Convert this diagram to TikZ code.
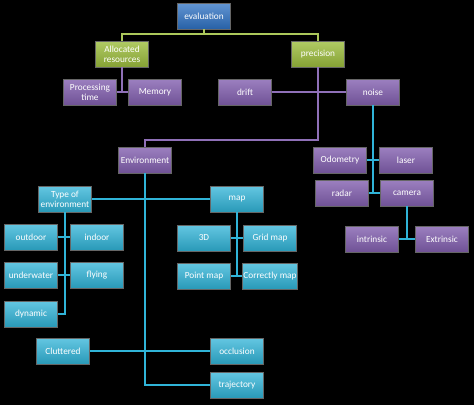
\documentclass[tikz,border=0pt]{standalone}
\usepackage{fontspec}
\setmainfont{Carlito}
\usepackage{tikz}
\usetikzlibrary{arrows}

\definecolor{evalblue}{HTML}{2E72C4}
\definecolor{critgreen}{HTML}{9DBE3E}
\definecolor{subpurple}{HTML}{8360B0}
\definecolor{envcyan}{HTML}{30B4D8}

\begin{document}
\begin{tikzpicture}[x=1pt,y=-1pt]
	\tikzstyle{Box} = [minimum width=53pt, minimum height=26pt, inner sep=1pt,
		align=center, text=white, font=\fontsize{9.3}{9.8}\selectfont, draw=black!60, line width=0.4pt]
	\tikzstyle{BlueBox} = [Box, top color=evalblue!75!white, bottom color=evalblue!85!black]
	\tikzstyle{GreenBox} = [Box, top color=critgreen!80!white, bottom color=critgreen!85!black]
	\tikzstyle{PurpleBox} = [Box, top color=subpurple!80!white, bottom color=subpurple!85!black]
	\tikzstyle{CyanBox} = [Box, top color=envcyan!75!white, bottom color=envcyan!85!black]
	\tikzstyle{GreenEdge} = [draw=critgreen!85!white, line width=1.6pt]
	\tikzstyle{PurpleEdge} = [draw=subpurple!90!white, line width=1.6pt]
	\tikzstyle{CyanEdge} = [draw=envcyan, line width=1.6pt]

	\fill[black] (0,0) rectangle (474,405);
	\useasboundingbox (0,0) rectangle (474,405);

	\node[BlueBox] (eval) at (204,16) {evaluation};
	\node[GreenBox] (alloc) at (122,54) {Allocated\\resources};
	\node[GreenBox] (prec) at (318,54) {precision};
	\node[PurpleBox] (proc) at (90,92) {Processing\\time};
	\node[PurpleBox] (mem) at (155,92) {Memory};
	\node[PurpleBox] (drift) at (245,92) {drift};
	\node[PurpleBox] (noise) at (373,92) {noise};
	\node[PurpleBox] (env) at (145,160) {Environment};
	\node[PurpleBox] (odo) at (340,160) {Odometry};
	\node[PurpleBox] (laser) at (406,160) {laser};
	\node[PurpleBox] (radar) at (342,193) {radar};
	\node[PurpleBox] (camera) at (407,193) {camera};
	\node[PurpleBox] (intr) at (372,239) {intrinsic};
	\node[PurpleBox] (extr) at (442,239) {Extrinsic};

	\node[CyanBox] (type) at (65,199) {Type of\\environment};
	\node[CyanBox] (map) at (237,199) {map};
	\node[CyanBox] (outdoor) at (31,237) {outdoor};
	\node[CyanBox] (indoor) at (97,237) {indoor};
	\node[CyanBox] (threed) at (204,238) {3D};
	\node[CyanBox] (grid) at (270,238) {Grid map};
	\node[CyanBox] (under) at (31,275) {underwater};
	\node[CyanBox] (flying) at (97,275) {flying};
	\node[CyanBox] (point) at (204,276) {Point map};
	\node[CyanBox] (correct) at (270,276) {Correctly map};
	\node[CyanBox] (dyn) at (31,314) {dynamic};
	\node[CyanBox] (clut) at (63,351) {Cluttered};
	\node[CyanBox] (occl) at (237,351) {occlusion};
	\node[CyanBox] (traj) at (237,385) {trajectory};

	\draw[GreenEdge] (eval.south) -- ++(0,5) -| (alloc.north);
	\draw[GreenEdge] (eval.south) -- ++(0,5) -| (prec.north);

	\draw[PurpleEdge] (alloc.south) |- (proc.east);
	\draw[PurpleEdge] (proc.east) -- (mem.west);
	\draw[PurpleEdge] (prec.south) -- ++(0,73) -| (env.north);
	\draw[PurpleEdge] (drift) -- (noise);

	\draw[CyanEdge] (noise.south) -- (noise.south |- camera.west);
	\draw[CyanEdge] (odo) -- (laser);
	\draw[CyanEdge] (radar) -- (camera);
	\draw[CyanEdge] (camera.south) |- (intr.east);
	\draw[CyanEdge] (intr) -- (extr);

	\draw[CyanEdge] (env.south) |- (traj.west);
	\draw[CyanEdge] (type) -- (map);
	\draw[CyanEdge] (clut) -- (occl);
	\draw[CyanEdge] (type.south) |- (dyn.east);
	\draw[CyanEdge] (outdoor) -- (indoor);
	\draw[CyanEdge] (under) -- (flying);
	\draw[CyanEdge] (map.south) |- (point.east);
	\draw[CyanEdge] (threed) -- (grid);
	\draw[CyanEdge] (point) -- (correct);
\end{tikzpicture}
\end{document}
